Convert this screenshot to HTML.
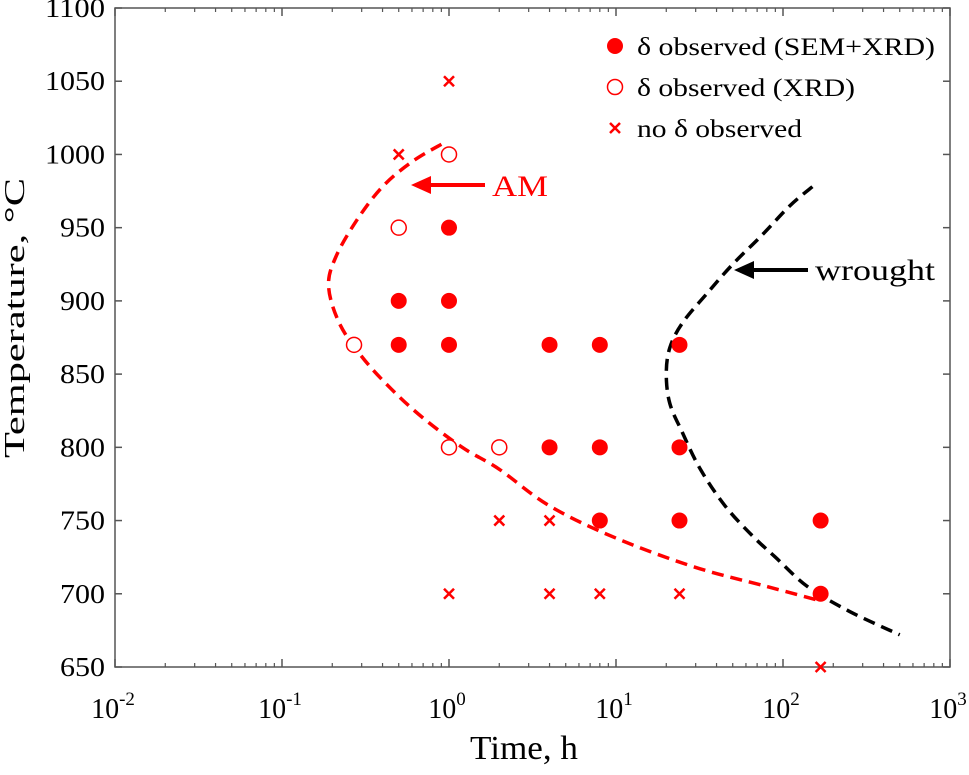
<!DOCTYPE html>
<html><head><meta charset="utf-8"><style>
body{margin:0;background:#fff}
text{font-family:"Liberation Serif",serif}
</style></head><body>
<svg id="chart" width="969" height="770" xmlns="http://www.w3.org/2000/svg">
<g id="axes"></g>
<g id="marks"></g>
</svg>
<script>
const xTickExp=[-2,-1,0,1,2,3];
const yTicks=[650,700,750,800,850,900,950,1000,1050,1100];
const filledT=[1,0.5,1,0.5,1,4,8,24,4,8,24,8,24,168,168];
const filledC=[950,900,900,870,870,870,870,870,800,800,800,750,750,750,700];
const openT=[1,0.5,0.27,1,2];
const openC=[1000,950,870,800,800];
const noneT=[1,0.5,2,4,1,4,8,24,168];
const noneC=[1050,1000,750,750,700,700,700,700,650];
const amT=[0.9,0.6,0.4,0.28,0.21,0.19,0.22,0.3,0.45,0.7,1.2,2,4,10,30,80,170];
const amC=[1007,995,978,955,930,910,885,862,840,820,800,785,760,738,718,705,695];
const wrT=[150,110,75,50,35,25,21,20,21,25,32,45,65,90,140,250,500];
const wrC=[978,965,945,925,905,885,868,850,830,810,785,760,740,725,705,688,672];
const L=115,R=950,T=8,B=667;
const xs=t=>L+(Math.log10(t)+2)/5*(R-L);
const ys=c=>B-(c-650)/450*(B-T);
const NS="http://www.w3.org/2000/svg";
function mk(tag,attrs,parent,txt){const e=document.createElementNS(NS,tag);for(const k in attrs)e.setAttribute(k,attrs[k]);if(txt!==undefined)e.textContent=txt;parent.appendChild(e);return e;}
const ax=document.getElementById('axes'),mg=document.getElementById('marks');
const frame=mk('rect',{x:L,y:T,width:R-L,height:B-T,fill:'none',stroke:'#555','stroke-width':1.5},ax);


yTicks.forEach(v=>{const y=ys(v);
 mk('line',{x1:L,x2:L+7,y1:y,y2:y,stroke:'#555','stroke-width':1.5},ax);
 mk('line',{x1:R,x2:R-7,y1:y,y2:y,stroke:'#555','stroke-width':1.5},ax);
 const s=String(v);
 const t=mk('text',{x:L-10,y:y+9,'text-anchor':'end','font-size':27,textLength:s.length*15,lengthAdjust:'spacingAndGlyphs'},ax,s);
 
 
});
xTickExp.forEach(e=>{const x=xs(Math.pow(10,e));
 mk('line',{x1:x,x2:x,y1:B,y2:B-8,stroke:'#555','stroke-width':1.5},ax);
 mk('line',{x1:x,x2:x,y1:T,y2:T+8,stroke:'#555','stroke-width':1.5},ax);
 if(e<3){for(let m=2;m<10;m++){const xm=xs(m*Math.pow(10,e));
  mk('line',{x1:xm,x2:xm,y1:B,y2:B-4,stroke:'#555','stroke-width':1.2},ax);
  mk('line',{x1:xm,x2:xm,y1:T,y2:T+4,stroke:'#555','stroke-width':1.2},ax);}}
 const t=mk('text',{x:x-2,y:B+51,'text-anchor':'middle','font-size':28},ax);
 
 
 mk('tspan',{},t,'10');mk('tspan',{dy:-13,'font-size':19},t,(e<0?'-':'')+Math.abs(e));
});
const xt=mk('text',{x:470,y:759,'font-size':34,textLength:108,lengthAdjust:'spacingAndGlyphs'},ax,'Time, h');


const yt=mk('text',{x:24,y:318,'text-anchor':'middle','font-size':29,textLength:280,lengthAdjust:'spacingAndGlyphs',transform:'rotate(-90 24 318)'},ax,'Temperature, °C');


function curve(ts,cs,col,name){
 const P=ts.map((t,i)=>[xs(t),ys(cs[i])]);
 let d='M'+P[0][0].toFixed(1)+','+P[0][1].toFixed(1);
 for(let i=0;i<P.length-1;i++){const p0=P[Math.max(0,i-1)],p1=P[i],p2=P[i+1],p3=P[Math.min(P.length-1,i+2)];
  const c1=[p1[0]+(p2[0]-p0[0])/6,p1[1]+(p2[1]-p0[1])/6],c2=[p2[0]-(p3[0]-p1[0])/6,p2[1]-(p3[1]-p1[1])/6];
  d+=` C${c1[0].toFixed(1)},${c1[1].toFixed(1)} ${c2[0].toFixed(1)},${c2[1].toFixed(1)} ${p2[0].toFixed(1)},${p2[1].toFixed(1)}`;}
 const p=mk('path',{d:d,fill:'none',stroke:col,'stroke-width':3.5,'stroke-dasharray':'12 7'},mg);
 
 }
curve(amT,amC,'#f00','am-curve');
curve(wrT,wrC,'#000','wrought-curve');
filledT.forEach((t,i)=>{const c=mk('circle',{cx:xs(t),cy:ys(filledC[i]),r:8,fill:'#f00'},mg);
 
 });
openT.forEach((t,i)=>{const c=mk('circle',{cx:xs(t),cy:ys(openC[i]),r:7.5,fill:'#fff',stroke:'#f00','stroke-width':1.5},mg);
 
 });
function xmark(x,y,p){return mk('path',{d:`M${x-5},${y-5}L${x+5},${y+5}M${x+5},${y-5}L${x-5},${y+5}`,stroke:'#f00','stroke-width':2.5},p);}
noneT.forEach((t,i)=>{const g=xmark(xs(t),ys(noneC[i]),mg);
 
 });
const a1=mk('g',{},mg);
mk('line',{x1:485,y1:185,x2:428,y2:185,stroke:'#f00','stroke-width':4},a1);
mk('path',{d:'M411,185 L431,176 L431,194 Z',fill:'#f00'},a1);
mk('text',{x:492,y:196,'font-size':30,fill:'#f00',textLength:56,lengthAdjust:'spacingAndGlyphs'},a1,'AM');
const a2=mk('g',{},mg);
mk('line',{x1:808,y1:270,x2:752,y2:270,stroke:'#000','stroke-width':4},a2);
mk('path',{d:'M734,270 L754,261 L754,279 Z',fill:'#000'},a2);
mk('text',{x:815,y:280,'font-size':30,fill:'#000',textLength:120,lengthAdjust:'spacingAndGlyphs'},a2,'wrought');
const lg=mk('g',{},mg);
mk('circle',{cx:615,cy:46,r:8,fill:'#f00'},lg);
mk('text',{x:637,y:55,'font-size':25,textLength:298,lengthAdjust:'spacingAndGlyphs'},lg,'δ observed (SEM+XRD)');
mk('circle',{cx:615,cy:87,r:7.5,fill:'#fff',stroke:'#f00','stroke-width':1.5},lg);
mk('text',{x:637,y:96,'font-size':25,textLength:218,lengthAdjust:'spacingAndGlyphs'},lg,'δ observed (XRD)');
xmark(615,128,lg);
mk('text',{x:637,y:137,'font-size':25,textLength:165,lengthAdjust:'spacingAndGlyphs'},lg,'no δ observed');
</script>
</body></html>
